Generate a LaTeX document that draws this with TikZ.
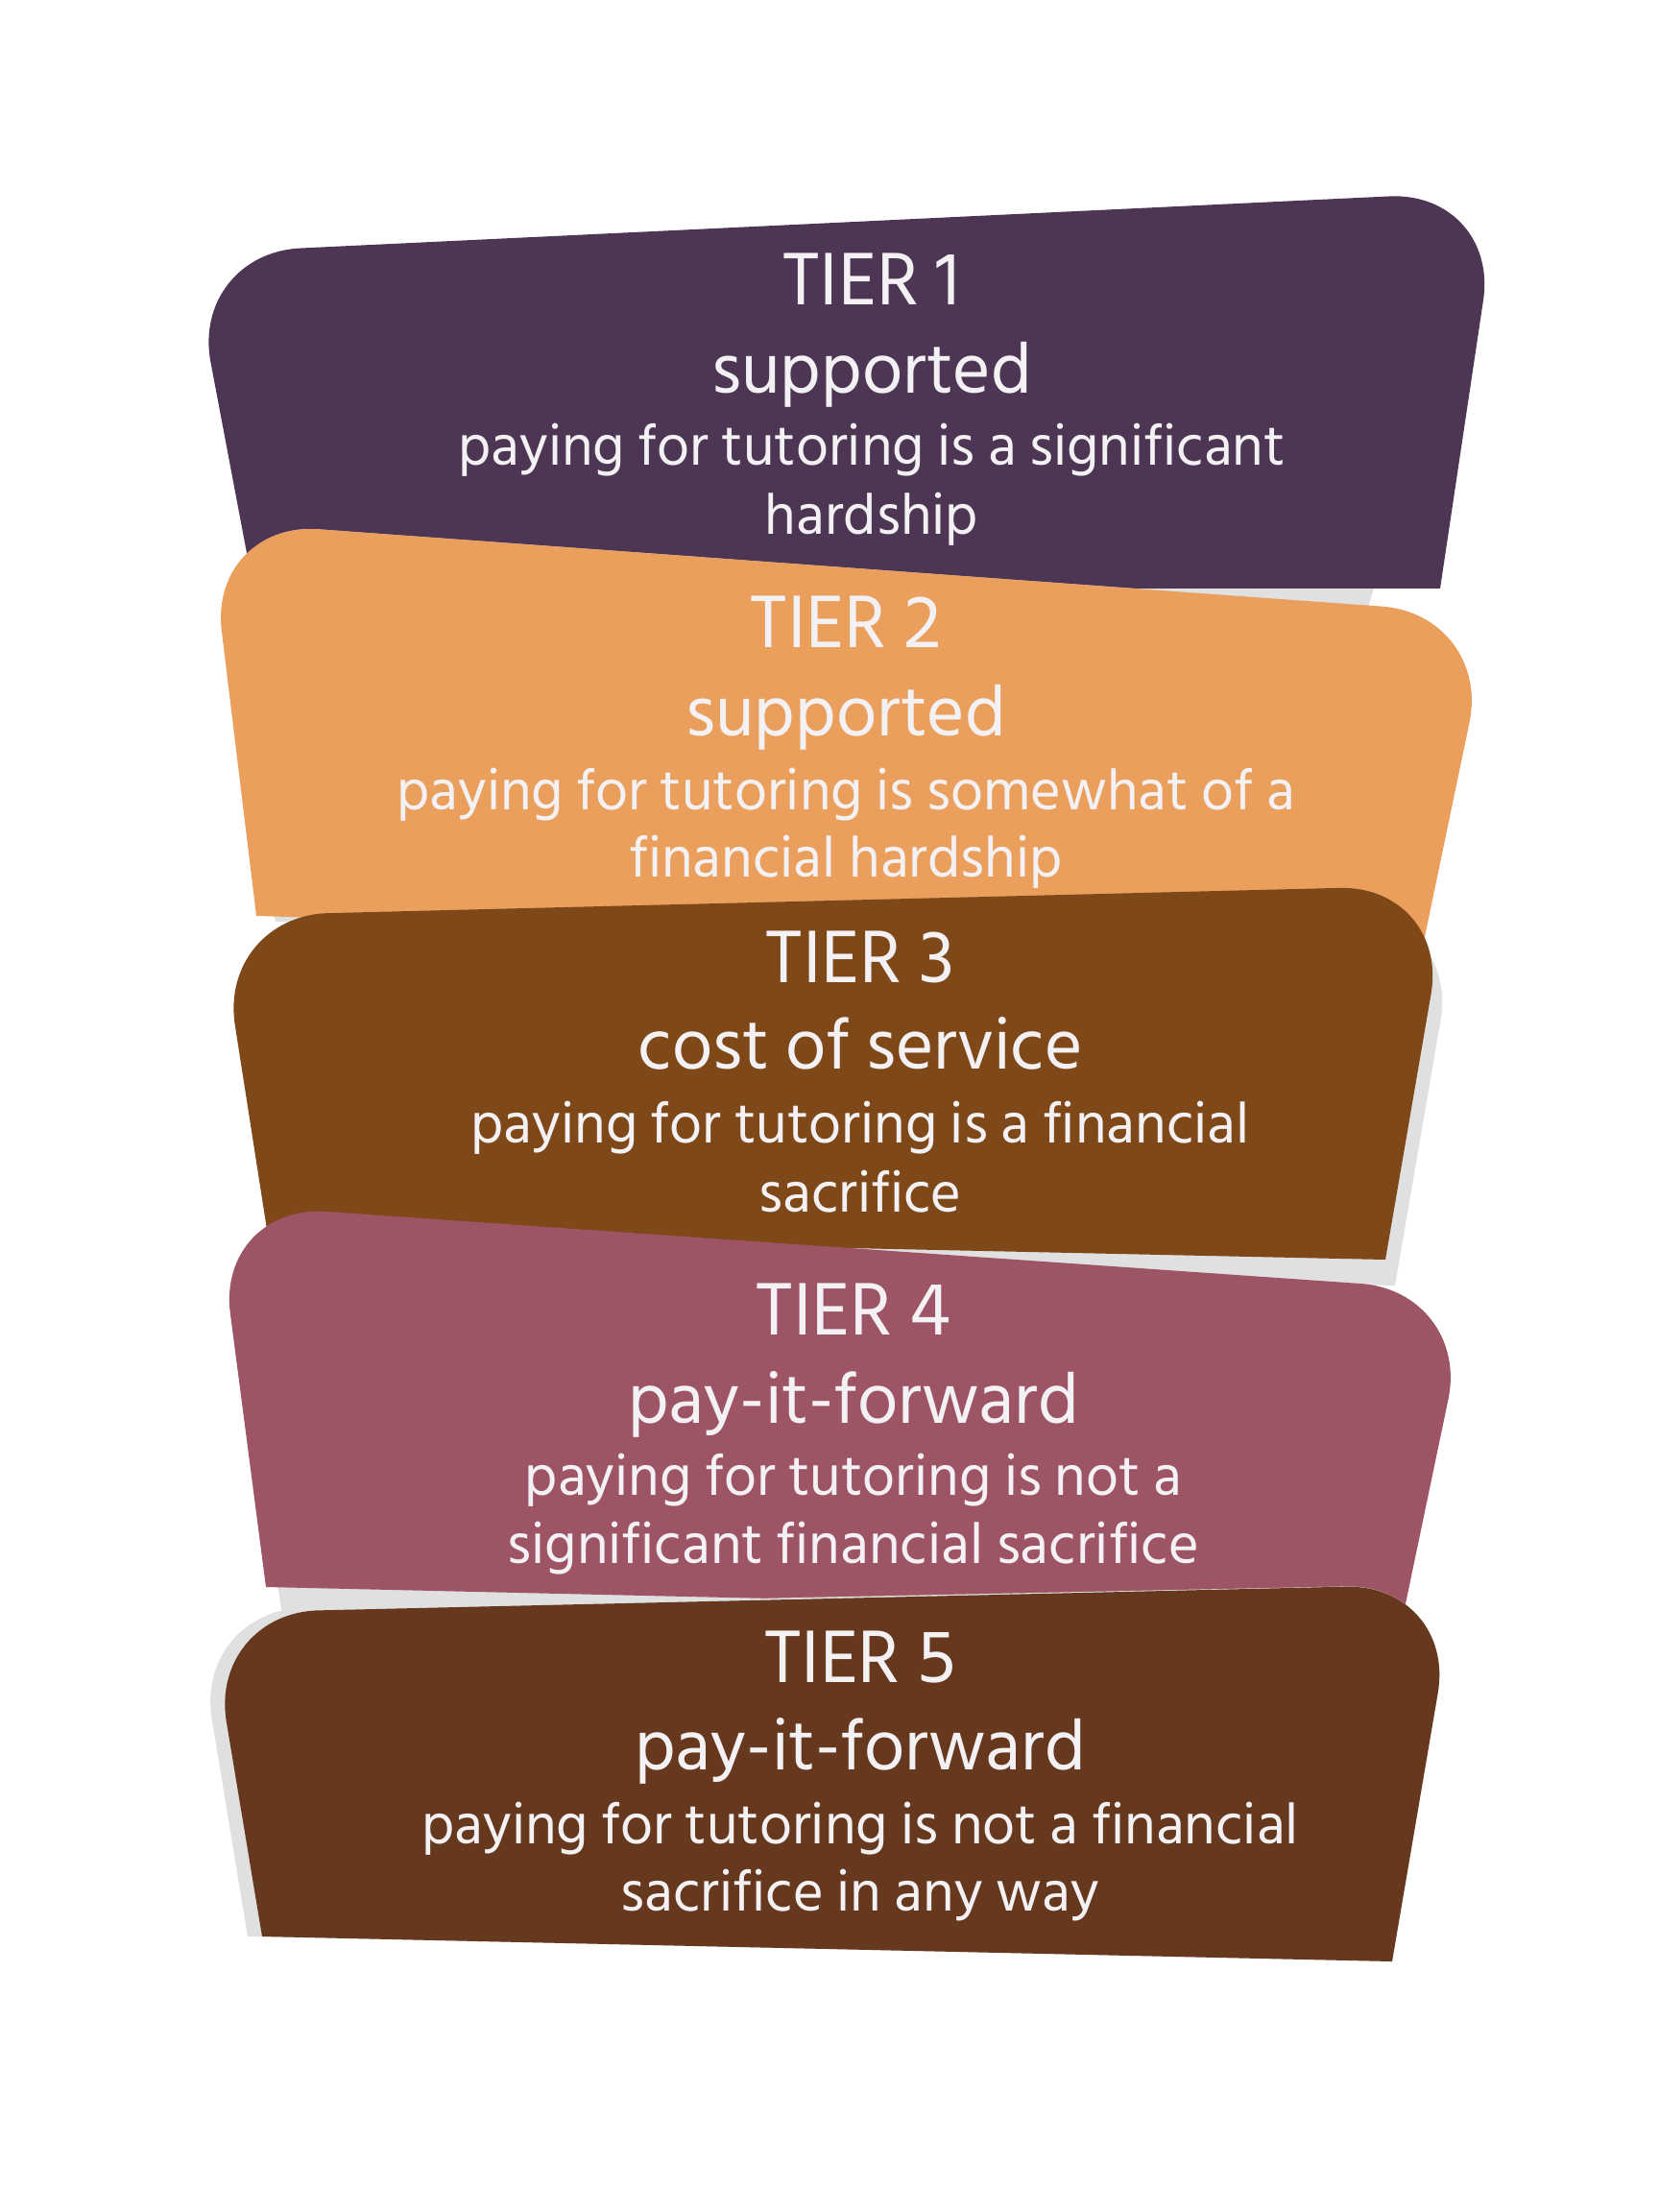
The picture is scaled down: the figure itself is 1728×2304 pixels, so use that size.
\documentclass[tikz,border=0pt]{standalone}
\usepackage{fontspec}
\setmainfont{Hind Siliguri}
\definecolor{cPurple}{HTML}{4D3654}
\definecolor{cOrange}{HTML}{EA9F5D}
\definecolor{cBrown}{HTML}{7F4819}
\definecolor{cMauve}{HTML}{9D5465}
\definecolor{cDark}{HTML}{66381E}
\definecolor{cShadow}{HTML}{E0E0E0}
\definecolor{cText}{HTML}{F3F1F3}
\begin{document}
\begin{tikzpicture}[x=0.01cm,y=-0.01cm,
  lbl/.style={text=cText, inner sep=0pt, anchor=base},
  tierlbl/.style={lbl, font=\fontsize{22.6}{22.6}\selectfont},
  mainlbl/.style={lbl, font=\fontsize{21.4}{21.4}\selectfont},
  desclbl/.style={lbl, font=\fontsize{17.2}{17.2}\selectfont},
  rc/.style={rounded corners=1.15cm}]
\fill[white] (0,0) rectangle (1728,2304);
\useasboundingbox (0,0) rectangle (1728,2304);

% tier 1
\fill[cShadow] (270,640) [rc] -- (205,270) -- (1545,210) [sharp corners] -- (1423,640) -- cycle;
\fill[cPurple] (264,613) [rc] -- (198,264) -- (1562,199) [sharp corners] -- (1500,613) -- cycle;
\node[tierlbl] (t1) at (908,318) {TIER 1};
\node[mainlbl] (m1) at (908,410) {supported};
\node[desclbl] (a1) at (908,485) {paying for tutoring is a significant};
\node[desclbl] (b1) at (908,557) {hardship};

% tier 2
\fill[cShadow] (287,960) [rc] -- (217,543) -- (1554,640) [sharp corners] -- (1475,995) -- cycle;
\fill[cOrange] (267,954) [rc] -- (217,543) -- (1554,640) [sharp corners] -- (1481,990) -- cycle;
\node[tierlbl] (t2) at (881,675) {TIER 2};
\node[mainlbl] (m2) at (881,767) {supported};
\node[desclbl] (a2) at (881,843) {paying for tutoring is somewhat of a};
\node[desclbl] (b2) at (881,913) {financial hardship};

% tier 3
\fill[cShadow] (289,1314) [rc] -- (237,981) -- (1520,949) [sharp corners] -- (1453,1339) -- cycle;
\fill[cBrown] (279,1287) [rc] -- (227,954) -- (1510,922) [sharp corners] -- (1443,1312) -- cycle;
\node[tierlbl] (t3) at (896,1023) {TIER 3};
\node[mainlbl] (m3) at (896,1113) {cost of service};
\node[desclbl] (a3) at (896,1190) {paying for tutoring is a financial};
\node[desclbl] (b3) at (896,1262) {sacrifice};

% tier 4
\fill[cShadow] (293,1677) [rc] -- (235,1265) -- (1532,1345) [sharp corners] -- (1455,1704) -- cycle;
\fill[cMauve] (277,1653) [rc] -- (225,1254) -- (1532,1345) [sharp corners] -- (1462,1680) -- cycle;
\node[tierlbl] (t4) at (889,1390) {TIER 4};
\node[mainlbl] (m4) at (889,1482) {pay-it-forward};
\node[desclbl] (a4) at (889,1557) {paying for tutoring is not a};
\node[desclbl] (b4) at (889,1628) {significant financial sacrifice};

% tier 5
\fill[cShadow] (258,2017) [rc] -- (202,1677) -- (1517,1650) [sharp corners] -- (1450,2043) -- cycle;
\fill[cDark] (273,2017) [rc] -- (217,1680) -- (1517,1650) [sharp corners] -- (1450,2043) -- cycle;
\node[tierlbl] (t5) at (896,1752) {TIER 5};
\node[mainlbl] (m5) at (896,1843) {pay-it-forward};
\node[desclbl] (a5) at (896,1920) {paying for tutoring is not a financial};
\node[desclbl] (b5) at (896,1990) {sacrifice in any way};
\end{tikzpicture}
\end{document}
